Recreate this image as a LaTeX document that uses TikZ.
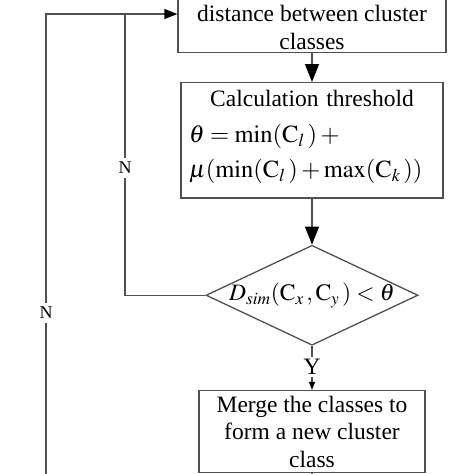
\documentclass[tikz,border=0pt]{standalone}
\usepackage{mathptmx}
\usepackage{fontspec}
\setmainfont{Liberation Serif}
\usepackage{tikz}
\usetikzlibrary{positioning,arrows.meta,shapes.geometric}
\definecolor{flowGray}{HTML}{505050}

\begin{document}
\begin{tikzpicture}[
  x=1pt, y=-1pt,
  every node/.style={font=\fontsize{23.5}{28}\selectfont},
  box/.style={rectangle, draw=flowGray, line width=1.3pt, align=center, inner sep=4pt},
  decision/.style={diamond, draw=flowGray, line width=1.3pt, aspect=2.12, inner sep=-3pt,
                   minimum width=212pt, minimum height=100pt},
  flow/.style={draw=flowGray, line width=1.3pt},
  bigtip/.style={-{Triangle[length=18pt,width=14pt,color=black]}},
  midtip/.style={-{Triangle[length=13pt,width=10pt,color=black]}},
  smalltip/.style={-{Triangle[length=8pt,width=6pt,color=black]}},
  branch/.style={font=\fontsize{18}{20}\selectfont, inner sep=4pt}
]
  \useasboundingbox (0,0) rectangle (474,474);
  \clip (0,0) rectangle (474,474);

  \node[box, anchor=south, minimum width=268pt, inner ysep=3pt] (dist) at (312,53) {\mbox{}\\distance between cluster\\classes};
  \node[box, below=29pt of dist, minimum width=262pt, text width=246pt, inner ysep=7.5pt] (calc)
    {Calculation threshold\\[8pt]
     \makebox[246pt][l]{\fontsize{24.5}{28}\selectfont$\theta=\min(\mathrm{C}_l\,)+{}$}\\[7pt]
     \makebox[246pt][l]{\fontsize{24.5}{28}\selectfont$\mu(\min(\mathrm{C}_l\,)+\max(\mathrm{C}_k\,))$}\rule[-13pt]{0pt}{13pt}};
  \node[decision, below=46pt of calc] (dec) {$D_{sim}(\mathrm{C}_x\,,\mathrm{C}_y\,)<\theta$};
  \node[inner sep=2pt] (yes) at (312,367) {Y};
  \node[box, below=44pt of dec, minimum width=226pt, minimum height=82pt, inner sep=0pt,
        font=\fontsize{23.5}{27.5}\selectfont] (merge) {Merge the classes to\\form a new cluster\\class};
  \node[branch] (n1) at (125,168) {N};
  \node[branch] (n2) at (46,313) {N};

  \coordinate (topline) at (0,14);
  \coordinate (distin) at (dist.west |- topline);
  \coordinate (join) at (n1 |- topline);
  \coordinate (outend) at (46,490);
  \coordinate (mergeout) at (312,490);

  \draw[flow, bigtip] (dist) -- (calc);
  \draw[flow, bigtip] (calc) -- (dec);
  \draw[flow] (dec) -- (yes);
  \draw[flow, smalltip] (yes) -- (merge);
  \draw[flow] (merge) -- (mergeout);
  \draw[flow] (dec.west) -| (n1);
  \draw[flow, midtip] (n1) |- (distin);
  \draw[flow] (outend) -- (n2);
  \draw[flow] (n2) |- (join);
\end{tikzpicture}
\end{document}
